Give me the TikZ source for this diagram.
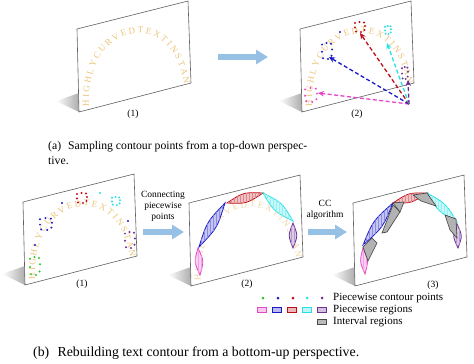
\documentclass[tikz,border=0pt]{standalone}
\usepackage{fontspec}
\setmainfont{Liberation Serif}
\usetikzlibrary{positioning,arrows.meta,decorations.text,calc,patterns}
\definecolor{txtgold}{RGB}{236,196,120}
\definecolor{txtfaint}{RGB}{242,214,160}
\definecolor{flowblue}{RGB}{150,192,228}
\definecolor{ptgreen}{RGB}{40,200,40}
\definecolor{ptblue}{RGB}{25,25,200}
\definecolor{ptred}{RGB}{190,15,25}
\definecolor{ptcyan}{RGB}{40,225,230}
\definecolor{ptpurple}{RGB}{110,50,150}
\definecolor{ptpink}{RGB}{230,70,200}

\newcommand{\panelbox}{%
  \shade[left color=white, right color=gray!65] (56,101) -- (79,93) -- (79,112) -- cycle;
  \draw[panel] (77,29) -- (188,1) -- (191,83) -- (79,112) -- cycle;}
\newcommand{\archtext}[1]{%
  \path[decorate, decoration={text along path, text align=fit to path,
    text={|\fontsize{9}{9}\selectfont\color{#1}|HIGHLYCURVEDTEXTINSTAN}}]
    (89,106) .. controls (85,22) and (172,5) .. (184,84);}
\newcommand{\cluster}[5]{%
  \foreach \dx/\dy in {-1/-0.8,-0.1/-1,0.8/-0.9,1/-0.2,0.9/0.6,0.2/1,-0.8/0.9,-1/0.1}
    \fill[#1] ({#2+\dx*#4},{#3+\dy*#5}) circle (1.1);}
\newcommand{\piecelens}[4]{%
  \path[lensreg=#1] #2 .. controls ($#2!0.5!#3!#4pt!90:#3$) .. #3
    .. controls ($#2!0.5!#3!#4pt!-90:#3$) .. #2 -- cycle;}

\begin{document}
\begin{tikzpicture}[x=1pt, y=-1pt,
    panel/.style={draw=gray!75!black, fill=white, line width=0.6pt},
    bigarrow/.style={draw=flowblue, line width=5.5pt, -{Triangle[length=12pt,width=14pt]}},
    dasharr/.style={dash pattern=on 4pt off 2.5pt, line width=1.3pt, -{Stealth[length=6pt,width=5.5pt]}},
    lensreg/.style={draw=#1, fill=#1!25, line width=0.8pt, postaction={pattern=vertical lines, pattern color=#1!50}},
    interval/.style={draw=black!75, fill=gray!60, line width=0.6pt},
    ptdot/.style={circle, fill=#1, inner sep=0pt, minimum size=3pt},
    regbox/.style={draw=#1, fill=#1!30, line width=1pt, inner sep=0pt, minimum width=9pt, minimum height=5.5pt},
    intbox/.style={draw=black!70, fill=gray!55, line width=1pt, inner sep=0pt, minimum width=9pt, minimum height=5.5pt},
    numlabel/.style={font=\fontsize{9.5}{11}\selectfont},
    steplabel/.style={font=\fontsize{9.5}{11}\selectfont, align=center},
    legtext/.style={font=\fontsize{11}{13}\selectfont, anchor=west, inner sep=0pt},
    capfont/.style={font=\fontsize{11.7}{15}\selectfont, anchor=base west, inner sep=0pt}
  ]
  \useasboundingbox (0,0) rectangle (474,364);

  % (a) top-down
  \begin{scope}
    \panelbox
    \archtext{txtgold}
  \end{scope}
  \node[numlabel] (na1) at (133,114) {(1)};

  \begin{scope}[shift={(223,0)}]
    \panelbox
    \archtext{txtgold}
    \cluster{ptpink}{88}{95}{6}{7}
    \cluster{ptblue}{104}{51}{5}{8}
    \fill[ptblue] (117,32) circle (1.1);
    \cluster{ptred}{137}{27}{5}{5}
    \cluster{ptcyan}{165}{30}{3}{4}
    \cluster{ptpurple}{182}{73}{3}{6}
  \end{scope}
  \node[numlabel] (na2) at (357,114) {(2)};

  \coordinate (eye) at (409,104);
  \coordinate (tpink) at (318,93);
  \coordinate (tblue) at (329,57);
  \coordinate (tred) at (360,33);
  \coordinate (tcyan) at (387,43);
  \coordinate (tpurple) at (408,80);
  \draw[dasharr, ptpink] (eye) -- (tpink);
  \draw[dasharr, ptblue] (eye) -- (tblue);
  \draw[dasharr, ptred] (eye) -- (tred);
  \draw[dasharr, ptcyan] (eye) -- (tcyan);
  \draw[dasharr, ptpurple] (eye) -- (tpurple);

  \coordinate (fa1) at (218,57);
  \coordinate (fa2) at (268,57);
  \draw[bigarrow] (fa1) -- (fa2);

  \node[capfont] (capa1) at (48,149) {(a)\hspace{0.6em}Sampling contour points from a top-down perspec-};
  \node[capfont] (capa2) at (48,164) {tive.};

  % (b) bottom-up
  \begin{scope}[shift={(-54,173)}]
    \panelbox
    \archtext{txtgold}
    \cluster{ptgreen}{89}{93}{5}{9}
    \fill[ptblue] (89,72) circle (1.1);
    \cluster{ptblue}{100}{51}{6}{6}
    \fill[ptblue] (116,30) circle (1.1);
    \cluster{ptred}{136}{25}{5}{5}
    \fill[ptcyan] (154,20) circle (1.1);
    \cluster{ptcyan}{170}{28}{4}{4}
    \fill[ptblue] (182,48) circle (1.1);
    \cluster{ptpurple}{184}{67}{5}{8}
  \end{scope}
  \node[numlabel] (nb1) at (82,284) {(1)};

  \begin{scope}[shift={(112,174)}]
    \panelbox
    \archtext{txtfaint}
    \piecelens{ptpink}{(86,74)}{(88,101)}{5}
    \piecelens{ptblue}{(87,73)}{(113,29)}{6}
    \piecelens{ptred}{(115,29)}{(151,19)}{6}
    \piecelens{ptcyan}{(151,19)}{(181,47)}{6}
    \piecelens{ptpurple}{(181,49)}{(181,74)}{5}
  \end{scope}
  \node[numlabel] (nb2) at (247,284) {(2)};

  \begin{scope}[shift={(276,174)}]
    \panelbox
    \piecelens{ptpink}{(87,74)}{(89,100)}{4.5}
    \piecelens{ptblue}{(87,71)}{(117,29)}{6}
    \piecelens{ptred}{(117,29)}{(151,19)}{5.5}
    \piecelens{ptcyan}{(151,19)}{(181,48)}{5.5}
    \piecelens{ptpurple}{(181,50)}{(182,74)}{5}
    \path[interval] (87,73) -- (92,87) -- (101,69) -- (96,64) -- cycle;
    \path[interval] (106,59) -- (111,58) -- (124,38) -- (117,31) -- cycle;
    \path[interval] (117,29) -- (128,28) -- (124,38) -- cycle;
    \path[interval] (137,21) -- (151,19) -- (160,32) -- (145,27) -- cycle;
    \path[interval] (169,41) -- (180,45) -- (181,64) -- (174,56) -- cycle;
  \end{scope}
  \node[numlabel] (nb3) at (433,285) {(3)};

  \coordinate (fb1) at (143,232);
  \coordinate (fb2) at (184,232);
  \draw[bigarrow] (fb1) -- (fb2);
  \node[steplabel] (connect) at (163,206) {Connecting\\piecewise\\points};
  \coordinate (fb3) at (308,232);
  \coordinate (fb4) at (347,232);
  \draw[bigarrow] (fb3) -- (fb4);
  \node[steplabel] (ccalg) at (325,210) {CC\\algorithm};

  % legend
  \node[ptdot=ptgreen] (lg1) at (263,298) {};
  \node[ptdot=ptblue] (lg2) at (278,298) {};
  \node[ptdot=ptred] (lg3) at (293,298) {};
  \node[ptdot=ptcyan] (lg4) at (307,298) {};
  \node[ptdot=ptpurple] (lg5) at (322,298) {};
  \node[legtext] (lt1) at (333,298) {Piecewise contour points};
  \node[regbox=ptpink] (lr1) at (262,310) {};
  \node[regbox=ptblue] (lr2) at (277,310) {};
  \node[regbox=ptred] (lr3) at (292,310) {};
  \node[regbox=ptcyan] (lr4) at (307,310) {};
  \node[regbox=ptpurple] (lr5) at (322,310) {};
  \node[legtext] (lt2) at (333,310) {Piecewise regions};
  \node[intbox] (li1) at (322,322) {};
  \node[legtext] (lt3) at (333,322) {Interval regions};

  \node[capfont, font=\fontsize{13.8}{16}\selectfont] (capb) at (33,356) {(b)\hspace{0.6em}Rebuilding text contour from a bottom-up perspective.};
\end{tikzpicture}
\end{document}
